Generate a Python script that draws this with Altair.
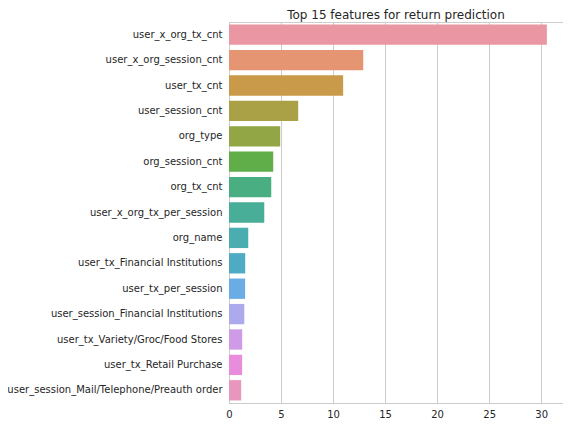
import altair as alt
import pandas as pd

features = [
    "user_x_org_tx_cnt",
    "user_x_org_session_cnt",
    "user_tx_cnt",
    "user_session_cnt",
    "org_type",
    "org_session_cnt",
    "org_tx_cnt",
    "user_x_org_tx_per_session",
    "org_name",
    "user_tx_Financial Institutions",
    "user_tx_per_session",
    "user_session_Financial Institutions",
    "user_tx_Variety/Groc/Food Stores",
    "user_tx_Retail Purchase",
    "user_session_Mail/Telephone/Preauth order",
]
importance = [30.55, 12.9, 10.97, 6.65, 4.92, 4.25, 4.06, 3.39, 1.85, 1.56, 1.55, 1.47, 1.27, 1.26, 1.17]
colors = [
    "#ea96a3", "#e59572", "#c89a4a", "#aaa045", "#93a645",
    "#5fae49", "#49ae82", "#49ae98", "#4aadaf", "#4fabc4",
    "#6aade4", "#aca9ec", "#cf9be7", "#e88ddb", "#e896be",
]

df = pd.DataFrame({"feature": features, "importance": importance})

chart = alt.Chart(df).mark_bar().encode(
    x=alt.X("importance:Q", title=None,
            scale=alt.Scale(domain=[0, 32.1], nice=False, zero=True),
            axis=alt.Axis(values=[0, 5, 10, 15, 20, 25, 30], grid=True, gridColor="#cccccc",
                          domain=False, ticks=False, labelPadding=6, labelFontSize=10,
                          labelFont="DejaVu Sans", labelColor="#262626", labelFlush=False)),
    y=alt.Y("feature:N", title=None, sort=features,
            scale=alt.Scale(paddingInner=0.2, paddingOuter=0.1),
            axis=alt.Axis(grid=False, domain=False, ticks=False, labelPadding=7, labelFontSize=10,
                          labelFont="DejaVu Sans", labelColor="#262626", labelLimit=400)),
    color=alt.Color("feature:N", sort=features, legend=None,
                    scale=alt.Scale(domain=features, range=colors)),
).properties(
    width=334,
    height=381,
    title=alt.TitleParams("Top 15 features for return prediction", font="DejaVu Sans",
                          fontSize=12, fontWeight="normal", color="#262626", offset=0),
    autosize=alt.AutoSizeParams(type="none"),
    padding={"left": 221, "top": 14, "right": 0, "bottom": 16},
).configure_view(stroke="#cccccc", strokeWidth=1)

chart.save("out.html", embed_options={"renderer": "svg", "actions": False})
